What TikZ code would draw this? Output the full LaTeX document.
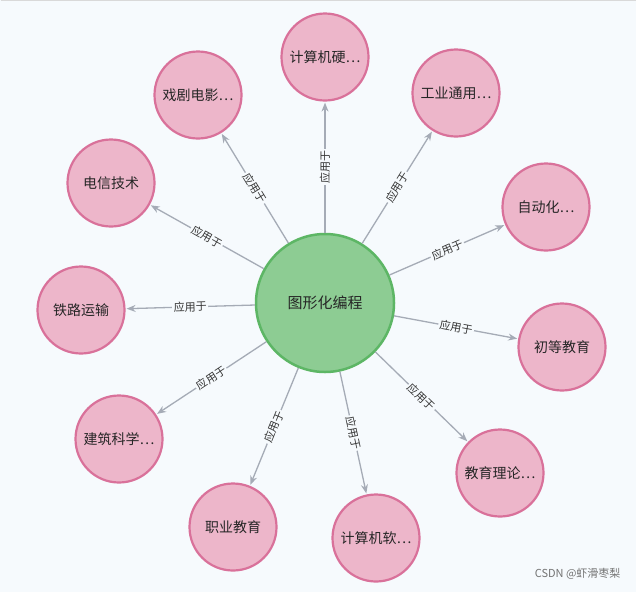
\documentclass[tikz,border=0pt]{standalone}
\usepackage{fontspec}
\setmainfont{Noto Sans CJK SC}
\usetikzlibrary{arrows.meta}
\definecolor{bgc}{HTML}{F6FAFD}
\definecolor{pinkf}{HTML}{EDB6CA}
\definecolor{pinkd}{HTML}{D9719A}
\definecolor{greenf}{HTML}{8DCC93}
\definecolor{greend}{HTML}{5DB665}
\definecolor{edgec}{HTML}{A5ABB6}
\tikzset{
 outer/.style={circle,draw=pinkd,fill=pinkf,line width=2.2pt,minimum size=87pt,inner sep=0pt,font=\fontsize{14}{14}\selectfont,text=black!85},
 hub/.style={circle,draw=greend,fill=greenf,line width=2.5pt,minimum size=138pt,inner sep=0pt,font=\fontsize{15}{15}\selectfont,text=black!85},
 rel/.style={draw=edgec,line width=1.3pt,-{Stealth[length=9pt,width=7pt]},shorten >=1pt},
 lab/.style={midway,sloped,fill=bgc,inner sep=1.5pt,font=\fontsize{11}{11}\selectfont,text=black!80}
}
\begin{document}
\begin{tikzpicture}[x=1pt,y=-1pt]
\fill[bgc] (0,0) rectangle (636,592);
\draw[black!15] (0.5,0.5) -- (635.5,0.5);
\useasboundingbox (0,0) rectangle (636,592);
\node[hub] (c) at (325,303) {图形化编程};
\node[outer] (n1) at (325,57) {计算机硬…};
\node[outer] (n2) at (456,93) {工业通用…};
\node[outer] (n3) at (546,207) {自动化…};
\node[outer] (n4) at (562,347) {初等教育};
\node[outer] (n5) at (500,473) {教育理论…};
\node[outer] (n6) at (376,538) {计算机软…};
\node[outer] (n7) at (233,527) {职业教育};
\node[outer] (n8) at (119,439) {建筑科学…};
\node[outer] (n9) at (81,310) {铁路运输};
\node[outer] (n10) at (111,183) {电信技术};
\node[outer] (n11) at (198,95) {戏剧电影…};
\foreach \n in {n1,n2,n3,n4,n5,n6,n7,n8,n9,n10,n11}
  \draw[rel] (c) -- node[lab]{应用于} (\n);
\node[font=\fontsize{11}{11}\selectfont,text=black!55,anchor=east] (wm) at (624,574) {CSDN @虾滑枣梨};
\end{tikzpicture}
\end{document}
